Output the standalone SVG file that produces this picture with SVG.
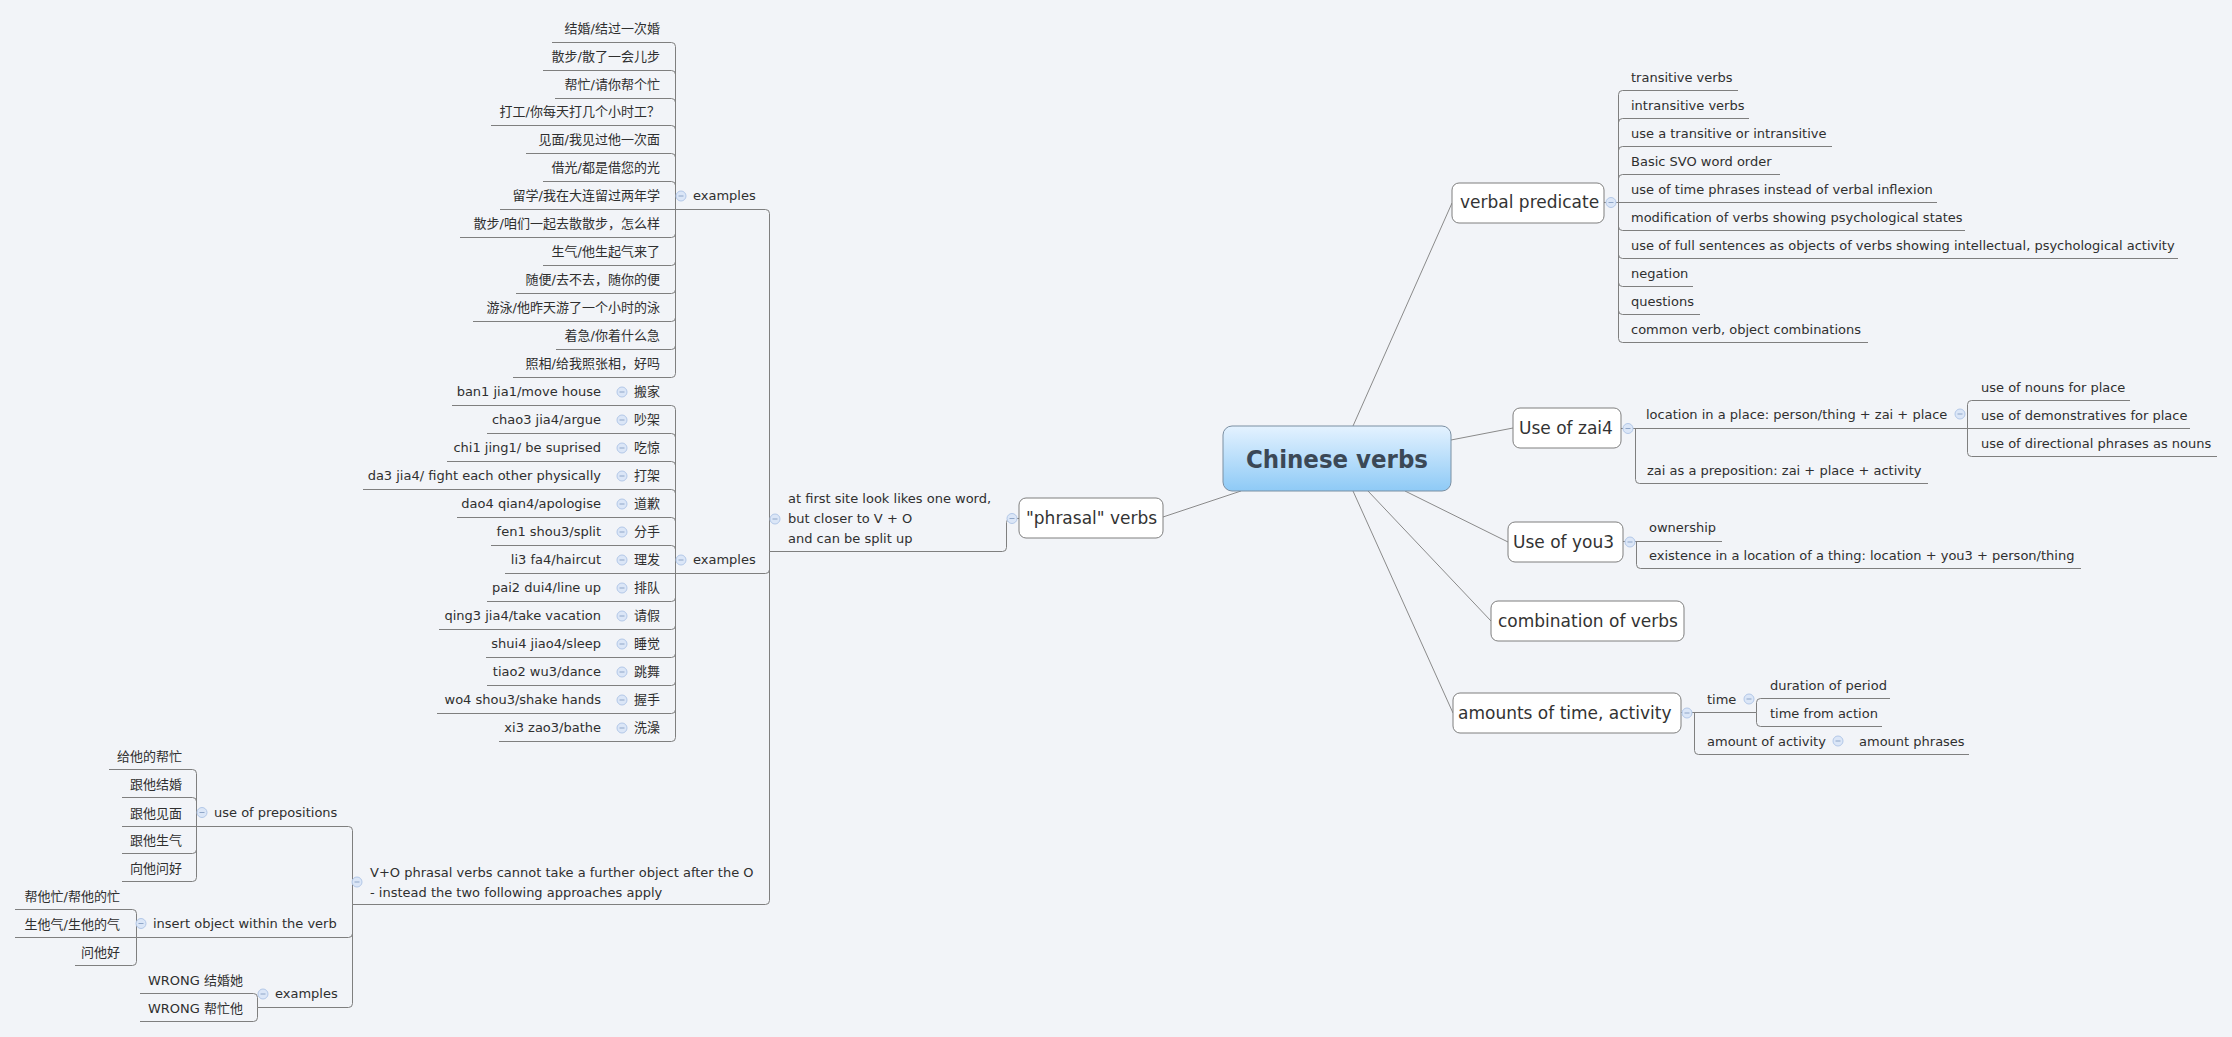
<svg xmlns="http://www.w3.org/2000/svg" xmlns:xlink="http://www.w3.org/1999/xlink" width="2232" height="1037" viewBox="0 0 2232 1037">
<style>
.t{font-family:"DejaVu Sans",Verdana,"Noto Sans CJK SC",sans-serif;font-size:13px;fill:#2f2f2f}
.e{text-anchor:end}
.bt{font-size:17px;fill:#333}
.box{fill:#fff;stroke:#7f7f7f;stroke-width:1}
.ln{fill:none;stroke:#7f7f7f;stroke-width:1}
.mc{fill:none;stroke:#8a8a8a;stroke-width:1}
</style>
<defs>
<linearGradient id="cg" x1="0" y1="0" x2="0" y2="1">
<stop offset="0" stop-color="#e4f2ff"/>
<stop offset="1" stop-color="#8ecaf6"/>
</linearGradient>
<g id="col"><circle r="5" fill="#dbe6f7" stroke="#b3c8e8" stroke-width="1"/><line x1="-2.5" y1="0" x2="2.5" y2="0" stroke="#8fa6c8" stroke-width="1"/></g>
</defs>
<rect width="2232" height="1037" fill="#f2f4f8"/>

<g id="connectors">
<path class="mc" d="M1353 426 L1452 203"/>
<path class="mc" d="M1451 440 L1513 428"/>
<path class="mc" d="M1405 491 L1508 542"/>
<path class="mc" d="M1368 491 L1491 621"/>
<path class="mc" d="M1353 491 L1453 713"/>
<path class="mc" d="M1241 491 L1163 517"/>
<path class="ln" d="M1019 518.5 H1010.5 Q1006.5 518.5 1006.5 522.5 V547.5 Q1006.5 551.5 1002.5 551.5 H769.5"/>
<path class="ln" d="M769.5 551.5 V213.5 Q769.5 209.5 765.5 209.5 H675.5"/>
<path class="ln" d="M769.5 551.5 V569.5 Q769.5 573.5 765.5 573.5 H675.5"/>
<path class="ln" d="M769.5 551.5 V900.5 Q769.5 904.5 765.5 904.5 H352.5"/>
<path class="ln" d="M675.5 209.5 V46.5 Q675.5 42.5 671.5 42.5 H552"/>
<path class="ln" d="M675.5 209.5 V74.5 Q675.5 70.5 671.5 70.5 H543"/>
<path class="ln" d="M675.5 209.5 V102.5 Q675.5 98.5 671.5 98.5 H555"/>
<path class="ln" d="M675.5 209.5 V129.5 Q675.5 125.5 671.5 125.5 H491"/>
<path class="ln" d="M675.5 209.5 V157.5 Q675.5 153.5 671.5 153.5 H526"/>
<path class="ln" d="M675.5 209.5 V185.5 Q675.5 181.5 671.5 181.5 H543"/>
<path class="ln" d="M675.5 209.5 H500"/>
<path class="ln" d="M675.5 209.5 V233.5 Q675.5 237.5 671.5 237.5 H460"/>
<path class="ln" d="M675.5 209.5 V261.5 Q675.5 265.5 671.5 265.5 H543"/>
<path class="ln" d="M675.5 209.5 V289.5 Q675.5 293.5 671.5 293.5 H516"/>
<path class="ln" d="M675.5 209.5 V317.5 Q675.5 321.5 671.5 321.5 H473"/>
<path class="ln" d="M675.5 209.5 V345.5 Q675.5 349.5 671.5 349.5 H556"/>
<path class="ln" d="M675.5 209.5 V373.5 Q675.5 377.5 671.5 377.5 H513"/>
<path class="ln" d="M675.5 573.5 V409.5 Q675.5 405.5 671.5 405.5 H452"/>
<path class="ln" d="M675.5 573.5 V437.5 Q675.5 433.5 671.5 433.5 H487"/>
<path class="ln" d="M675.5 573.5 V465.5 Q675.5 461.5 671.5 461.5 H447"/>
<path class="ln" d="M675.5 573.5 V493.5 Q675.5 489.5 671.5 489.5 H363"/>
<path class="ln" d="M675.5 573.5 V521.5 Q675.5 517.5 671.5 517.5 H457"/>
<path class="ln" d="M675.5 573.5 V549.5 Q675.5 545.5 671.5 545.5 H491"/>
<path class="ln" d="M675.5 573.5 H505"/>
<path class="ln" d="M675.5 573.5 V597.5 Q675.5 601.5 671.5 601.5 H487"/>
<path class="ln" d="M675.5 573.5 V625.5 Q675.5 629.5 671.5 629.5 H439"/>
<path class="ln" d="M675.5 573.5 V653.5 Q675.5 657.5 671.5 657.5 H486"/>
<path class="ln" d="M675.5 573.5 V681.5 Q675.5 685.5 671.5 685.5 H487"/>
<path class="ln" d="M675.5 573.5 V709.5 Q675.5 713.5 671.5 713.5 H437"/>
<path class="ln" d="M675.5 573.5 V737.5 Q675.5 741.5 671.5 741.5 H499"/>
<path class="ln" d="M352.5 904.5 V830.5 Q352.5 826.5 348.5 826.5 H196.5"/>
<path class="ln" d="M352.5 904.5 V933.5 Q352.5 937.5 348.5 937.5 H136.5"/>
<path class="ln" d="M352.5 904.5 V1003.5 Q352.5 1007.5 348.5 1007.5 H257.5"/>
<path class="ln" d="M196.5 826.5 V773.5 Q196.5 769.5 192.5 769.5 H109"/>
<path class="ln" d="M196.5 826.5 V801.5 Q196.5 797.5 192.5 797.5 H122"/>
<path class="ln" d="M196.5 826.5 H122"/>
<path class="ln" d="M196.5 826.5 V849.5 Q196.5 853.5 192.5 853.5 H122"/>
<path class="ln" d="M196.5 826.5 V877.5 Q196.5 881.5 192.5 881.5 H122"/>
<path class="ln" d="M136.5 937.5 V913.5 Q136.5 909.5 132.5 909.5 H15"/>
<path class="ln" d="M136.5 937.5 H15"/>
<path class="ln" d="M136.5 937.5 V961.5 Q136.5 965.5 132.5 965.5 H75"/>
<path class="ln" d="M257.5 1007.5 V997.5 Q257.5 993.5 253.5 993.5 H140"/>
<path class="ln" d="M257.5 1007.5 V1017.5 Q257.5 1021.5 253.5 1021.5 H140"/>
<path class="ln" d="M1604 202.5 H1618.5"/>
<path class="ln" d="M1618.5 202.5 V94.5 Q1618.5 90.5 1622.5 90.5 H1738"/>
<path class="ln" d="M1618.5 202.5 V122.5 Q1618.5 118.5 1622.5 118.5 H1749"/>
<path class="ln" d="M1618.5 202.5 V150.5 Q1618.5 146.5 1622.5 146.5 H1832"/>
<path class="ln" d="M1618.5 202.5 V178.5 Q1618.5 174.5 1622.5 174.5 H1780"/>
<path class="ln" d="M1618.5 202.5 H1937"/>
<path class="ln" d="M1618.5 202.5 V226.5 Q1618.5 230.5 1622.5 230.5 H1965"/>
<path class="ln" d="M1618.5 202.5 V254.5 Q1618.5 258.5 1622.5 258.5 H2178"/>
<path class="ln" d="M1618.5 202.5 V282.5 Q1618.5 286.5 1622.5 286.5 H1693"/>
<path class="ln" d="M1618.5 202.5 V310.5 Q1618.5 314.5 1622.5 314.5 H1700"/>
<path class="ln" d="M1618.5 202.5 V338.5 Q1618.5 342.5 1622.5 342.5 H1868"/>
<path class="ln" d="M1621 428.5 H1967.5"/>
<path class="ln" d="M1635.5 428.5 V479.5 Q1635.5 483.5 1639.5 483.5 H1928"/>
<path class="ln" d="M1967.5 428.5 V404.5 Q1967.5 400.5 1971.5 400.5 H2130"/>
<path class="ln" d="M1967.5 428.5 H2190"/>
<path class="ln" d="M1967.5 428.5 V452.5 Q1967.5 456.5 1971.5 456.5 H2217"/>
<path class="ln" d="M1623 541.5 H1722"/>
<path class="ln" d="M1636.5 541.5 V564.5 Q1636.5 568.5 1640.5 568.5 H2081"/>
<path class="ln" d="M1681 712.5 H1756.5"/>
<path class="ln" d="M1694.5 712.5 V750.5 Q1694.5 754.5 1698.5 754.5 H1969"/>
<path class="ln" d="M1756.5 712.5 V702.5 Q1756.5 698.5 1760.5 698.5 H1890"/>
<path class="ln" d="M1756.5 712.5 V722.5 Q1756.5 726.5 1760.5 726.5 H1882"/>
</g>

<g id="n-root">
<rect x="1223" y="426" width="228" height="65" rx="9" fill="url(#cg)" stroke="#7b8fa2" stroke-width="1"/>
<text x="1337" y="468" text-anchor="middle" textLength="182" lengthAdjust="spacingAndGlyphs" style="font-family:'DejaVu Sans Condensed','DejaVu Sans',sans-serif;font-size:25px;font-weight:bold;fill:#3b4856">Chinese verbs</text>
</g>

<g id="n-phrasal">
<rect class="box" x="1019" y="498" width="144" height="40" rx="7"/>
<text class="t bt" x="1026" y="524">"phrasal" verbs</text>
<use xlink:href="#col" x="1012" y="518.5"/>
</g>

<g id="n-firstsite">
<text class="t" x="788" y="503">at first site look likes one word,</text>
<text class="t" x="788" y="523">but closer to V + O</text>
<text class="t" x="788" y="543">and can be split up</text>
<use xlink:href="#col" x="775" y="519"/>
</g>

<g id="n-examples1">
<text class="t" x="693" y="200">examples</text>
<use xlink:href="#col" x="681" y="196"/>
<text class="t e" x="660" y="33">结婚/结过一次婚</text>
<text class="t e" x="660" y="61">散步/散了一会儿步</text>
<text class="t e" x="660" y="89">帮忙/请你帮个忙</text>
<text class="t e" x="660" y="116">打工/你每天打几个小时工？</text>
<text class="t e" x="660" y="144">见面/我见过他一次面</text>
<text class="t e" x="660" y="172">借光/都是借您的光</text>
<text class="t e" x="660" y="200">留学/我在大连留过两年学</text>
<text class="t e" x="660" y="228">散步/咱们一起去散散步，怎么样</text>
<text class="t e" x="660" y="256">生气/他生起气来了</text>
<text class="t e" x="660" y="284">随便/去不去，随你的便</text>
<text class="t e" x="660" y="312">游泳/他昨天游了一个小时的泳</text>
<text class="t e" x="660" y="340">着急/你着什么急</text>
<text class="t e" x="660" y="368">照相/给我照张相，好吗</text>
</g>

<g id="n-examples2">
<text class="t" x="693" y="564">examples</text>
<use xlink:href="#col" x="681" y="560"/>
<text class="t e" x="601" y="396">ban1 jia1/move house</text><use xlink:href="#col" x="622" y="392"/><text class="t" x="634" y="396">搬家</text>
<text class="t e" x="601" y="424">chao3 jia4/argue</text><use xlink:href="#col" x="622" y="420"/><text class="t" x="634" y="424">吵架</text>
<text class="t e" x="601" y="452">chi1 jing1/ be suprised</text><use xlink:href="#col" x="622" y="448"/><text class="t" x="634" y="452">吃惊</text>
<text class="t e" x="601" y="480">da3 jia4/ fight each other physically</text><use xlink:href="#col" x="622" y="476"/><text class="t" x="634" y="480">打架</text>
<text class="t e" x="601" y="508">dao4 qian4/apologise</text><use xlink:href="#col" x="622" y="504"/><text class="t" x="634" y="508">道歉</text>
<text class="t e" x="601" y="536">fen1 shou3/split</text><use xlink:href="#col" x="622" y="532"/><text class="t" x="634" y="536">分手</text>
<text class="t e" x="601" y="564">li3 fa4/haircut</text><use xlink:href="#col" x="622" y="560"/><text class="t" x="634" y="564">理发</text>
<text class="t e" x="601" y="592">pai2 dui4/line up</text><use xlink:href="#col" x="622" y="588"/><text class="t" x="634" y="592">排队</text>
<text class="t e" x="601" y="620">qing3 jia4/take vacation</text><use xlink:href="#col" x="622" y="616"/><text class="t" x="634" y="620">请假</text>
<text class="t e" x="601" y="648">shui4 jiao4/sleep</text><use xlink:href="#col" x="622" y="644"/><text class="t" x="634" y="648">睡觉</text>
<text class="t e" x="601" y="676">tiao2 wu3/dance</text><use xlink:href="#col" x="622" y="672"/><text class="t" x="634" y="676">跳舞</text>
<text class="t e" x="601" y="704">wo4 shou3/shake hands</text><use xlink:href="#col" x="622" y="700"/><text class="t" x="634" y="704">握手</text>
<text class="t e" x="601" y="732">xi3 zao3/bathe</text><use xlink:href="#col" x="622" y="728"/><text class="t" x="634" y="732">洗澡</text>
</g>

<g id="n-vo">
<text class="t" x="370" y="877">V+O phrasal verbs cannot take a further object after the O</text>
<text class="t" x="370" y="897">- instead the two following approaches apply</text>
<use xlink:href="#col" x="357" y="882"/>
</g>

<g id="n-prepositions">
<text class="t" x="214" y="817">use of prepositions</text>
<use xlink:href="#col" x="202" y="812.5"/>
<text class="t e" x="182" y="760.5">给他的帮忙</text>
<text class="t e" x="182" y="788.5">跟他结婚</text>
<text class="t e" x="182" y="817.5">跟他见面</text>
<text class="t e" x="182" y="844.5">跟他生气</text>
<text class="t e" x="182" y="872.5">向他问好</text>
</g>

<g id="n-insert">
<text class="t" x="153" y="928">insert object within the verb</text>
<use xlink:href="#col" x="141" y="923.5"/>
<text class="t e" x="120" y="900.5">帮他忙/帮他的忙</text>
<text class="t e" x="120" y="928.5">生他气/生他的气</text>
<text class="t e" x="120" y="956.5">问他好</text>
</g>

<g id="n-examples3">
<text class="t" x="275" y="998">examples</text>
<use xlink:href="#col" x="263" y="994"/>
<text class="t e" x="243" y="984.5">WRONG 结婚她</text>
<text class="t e" x="243" y="1012.5">WRONG 帮忙他</text>
</g>

<g id="n-verbal">
<rect class="box" x="1452" y="183" width="152" height="40" rx="7"/>
<text class="t bt" x="1460" y="208">verbal predicate</text>
<use xlink:href="#col" x="1611" y="202.5"/>
<text class="t" x="1631" y="81.5">transitive verbs</text>
<text class="t" x="1631" y="109.5">intransitive verbs</text>
<text class="t" x="1631" y="137.5">use a transitive or intransitive</text>
<text class="t" x="1631" y="165.5">Basic SVO word order</text>
<text class="t" x="1631" y="193.5">use of time phrases instead of verbal inflexion</text>
<text class="t" x="1631" y="221.5">modification of verbs showing psychological states</text>
<text class="t" x="1631" y="249.5">use of full sentences as objects of verbs showing intellectual, psychological activity</text>
<text class="t" x="1631" y="277.5">negation</text>
<text class="t" x="1631" y="305.5">questions</text>
<text class="t" x="1631" y="333.5">common verb, object combinations</text>
</g>

<g id="n-zai4">
<rect class="box" x="1513" y="408" width="108" height="40" rx="7"/>
<text class="t bt" x="1519" y="434">Use of zai4</text>
<use xlink:href="#col" x="1628" y="428.5"/>
<text class="t" x="1646" y="419">location in a place: person/thing + zai + place</text>
<use xlink:href="#col" x="1960" y="414"/>
<text class="t" x="1647" y="474.5">zai as a preposition: zai + place + activity</text>
<text class="t" x="1981" y="391.5">use of nouns for place</text>
<text class="t" x="1981" y="419.5">use of demonstratives for place</text>
<text class="t" x="1981" y="447.5">use of directional phrases as nouns</text>
</g>

<g id="n-you3">
<rect class="box" x="1508" y="522" width="115" height="40" rx="7"/>
<text class="t bt" x="1513" y="548">Use of you3</text>
<use xlink:href="#col" x="1630" y="542"/>
<text class="t" x="1649" y="532">ownership</text>
<text class="t" x="1649" y="559.5">existence in a location of a thing: location + you3 + person/thing</text>
</g>

<g id="n-combination">
<rect class="box" x="1491" y="601" width="193" height="40" rx="7"/>
<text class="t bt" x="1498" y="627">combination of verbs</text>
</g>

<g id="n-amounts">
<rect class="box" x="1453" y="693" width="228" height="40" rx="7"/>
<text class="t bt" x="1458" y="719">amounts of time, activity</text>
<use xlink:href="#col" x="1687" y="713"/>
<text class="t" x="1707" y="703.5">time</text>
<use xlink:href="#col" x="1749" y="699"/>
<text class="t" x="1770" y="689.5">duration of period</text>
<text class="t" x="1770" y="717.5">time from action</text>
<text class="t" x="1707" y="745.5">amount of activity</text>
<use xlink:href="#col" x="1838" y="741"/>
<text class="t" x="1859" y="745.5">amount phrases</text>
</g>
</svg>
